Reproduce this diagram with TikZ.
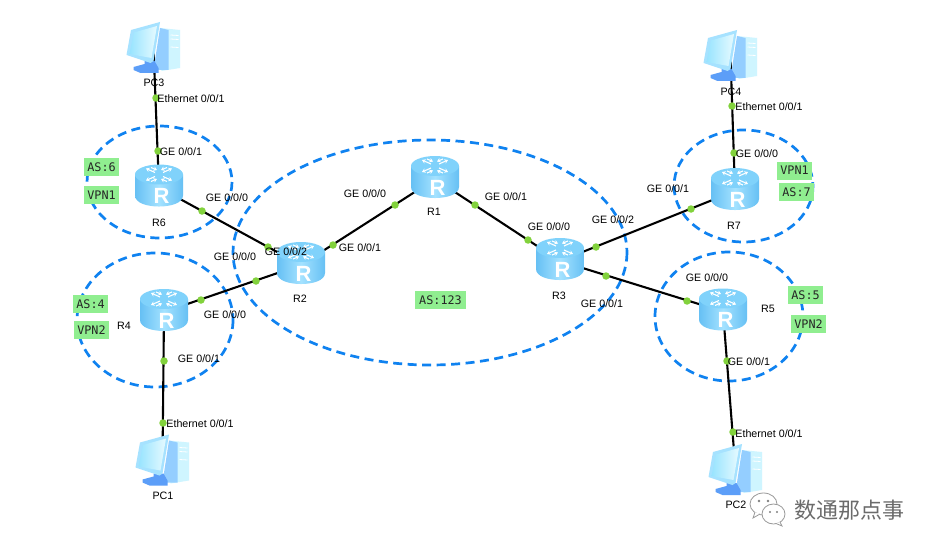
\documentclass[tikz,border=0pt]{standalone}
\usepackage{fontspec}
\usetikzlibrary{arrows.meta}
\setmainfont{Liberation Sans}
\newfontfamily\boxfont{DejaVu Sans Mono}
\newfontfamily\cjkfont{Noto Sans CJK SC}
\definecolor{asblue}{HTML}{0F82F0}
\definecolor{dotgreen}{HTML}{82D23C}
\definecolor{taggreen}{HTML}{90EE90}
\definecolor{rtedge}{HTML}{66C0F4}
\definecolor{rtmid}{HTML}{A4E2FF}
\definecolor{rttop}{HTML}{80D2FB}
\definecolor{pcframe}{HTML}{A6E2FF}
\definecolor{pcscreenA}{HTML}{98E4FF}
\definecolor{pcscreenB}{HTML}{E6FAFF}
\definecolor{pctowerR}{HTML}{CFF5FF}
\definecolor{pctowerL}{HTML}{94CEFF}
\definecolor{pcbase}{HTML}{5C9EF8}
\tikzset{
  zone/.style={draw=asblue,line width=2.7pt,dash pattern=on 9pt off 5.5pt},
  link/.style={draw=black,line width=2.1pt},
  port/.style={circle,fill=dotgreen,inner sep=0pt,minimum size=7.5pt},
  lbl/.style={inner sep=0pt,font=\fontsize{10.7}{12}\selectfont,text=black},
  tag/.style={fill=taggreen,inner sep=0pt,minimum width=35pt,minimum height=18pt,font=\boxfont\fontsize{11.8}{13}\selectfont,text=black!85},
  anchorpt/.style={inner sep=0pt,minimum size=0pt},
  rosette/.style={white,line width=1.1pt,-{Stealth[length=3.5pt,width=4.5pt]}},
  router/.pic={
    \path[shading=axis,left color=rtedge,right color=rtedge,middle color=rtmid]
      (-24,-13) -- (-24,8) .. controls (-24,22.7) and (24,22.7) .. (24,8) -- (24,-13) -- cycle;
    \path[fill=rttop] (0,-13) ellipse[x radius=24,y radius=10];
    \draw[rosette] (-4,-15) -- (-13,-19);
    \draw[rosette] (4,-15) -- (13,-19);
    \draw[rosette] (-4,-11) -- (-13,-7);
    \draw[rosette] (4,-11) -- (13,-7);
    \draw[rosette] (-8,-20) -- (-2,-17.5);
    \draw[rosette] (8,-20) -- (2,-17.5);
    \draw[rosette] (-8,-6) -- (-2,-8.5);
    \draw[rosette] (8,-6) -- (2,-8.5);
    \node[white,font=\bfseries\fontsize{22}{22}\selectfont,inner sep=0pt] at (2.5,8.5) {R};
  },
  pcicon/.pic={
    \fill[pctowerR] (6.5,-20) -- (26.5,-18) -- (26.5,20) -- (8,23) -- cycle;
    \fill[pctowerL] (6.5,-20) -- (15,-18) -- (15,22) -- (0,22) -- cycle;
    \draw[white,line width=0.8pt] (17,-13) -- (25,-12.5) (17,-9) -- (25,-8.5) (17,-1) -- (25,-0.5);
    \fill[pcbase] (-20,19) -- (-20,22) -- (-13,25) -- (5,25) -- (5,20) -- (1,13) -- (-9,13) -- (-9,16) -- cycle;
    \fill[pcframe] (-27,7) -- (-22.5,-18) -- (6.5,-26) -- (0,13) -- (-3,15) -- cycle;
    \shade[shading angle=135,left color=pcscreenA,right color=pcscreenB] (-24,6) -- (-19.5,-15.5) -- (3.5,-22) -- (-2,10) -- cycle;
  }
}
\begin{document}
\begin{tikzpicture}[x=1pt,y=-1pt]
\useasboundingbox[fill=white] (0,0) rectangle (937,551);
% zones
\draw[zone] (159.5,182) ellipse[x radius=72.5,y radius=56];
\draw[zone] (155,320) ellipse[x radius=78,y radius=67];
\draw[zone] (430,252.5) ellipse[x radius=197,y radius=112.5];
\draw[zone] (743.5,186) ellipse[x radius=69.5,y radius=56];
\draw[zone] (729,316.5) ellipse[x radius=74,y radius=64.5];
% device anchors
\node[anchorpt] (R1) at (435,179) {};
\node[anchorpt] (R2) at (301,265) {};
\node[anchorpt] (R3) at (560,261) {};
\node[anchorpt] (R4) at (164,312) {};
\node[anchorpt] (R5) at (723,311.5) {};
\node[anchorpt] (R6) at (159,187.5) {};
\node[anchorpt] (R7) at (735,191) {};
\node[anchorpt] (PC1) at (162.5,460.5) {};
\node[anchorpt] (PC2) at (735.5,470) {};
\node[anchorpt] (PC3) at (153.5,48) {};
\node[anchorpt] (PC4) at (730.5,56) {};
% links
\draw[link] (PC3) -- (R6);
\draw[link] (R6) -- (R2);
\draw[link] (R4) -- (R2);
\draw[link] (R2) -- (R1);
\draw[link] (R1) -- (R3);
\draw[link] (R3) -- (R7);
\draw[link] (R3) -- (R5);
\draw[link] (PC4) -- (R7);
\draw[link] (R4) -- (PC1);
\draw[link] (R5) -- (PC2);
% icons
\foreach \d in {R1,R2,R3,R4,R5,R6,R7}{\pic at (\d) {router};}
\foreach \d in {PC1,PC2,PC3,PC4}{\pic at (\d) {pcicon};}
% ports
\foreach \i/\p in {1/{156,98},2/{158,151},3/{202,211},4/{268,247},5/{333,245},6/{201,300},7/{256,281},8/{164,361},9/{163,423},10/{732,106},11/{734,153},12/{691,209},13/{687,301},14/{727,361},15/{733,432},16/{395,205},17/{475,205},18/{528,240},19/{596,247},20/{606,276}}{
  \node[port] (port\i) at (\p) {};
}
% device names
\node[lbl] (nR6) at (159,223) {R6};
\node[lbl] (nPC3) at (154,83) {PC3};
\node[lbl] (nR4) at (124,326) {R4};
\node[lbl] (nR2) at (300,299) {R2};
\node[lbl] (nPC1) at (163,496) {PC1};
\node[lbl] (nPC4) at (731,92) {PC4};
\node[lbl] (nR7) at (734,226) {R7};
\node[lbl] (nR5) at (768,309) {R5};
\node[lbl] (nPC2) at (736,505) {PC2};
\node[lbl] (nR1) at (434,212) {R1};
\node[lbl] (nR3) at (559,296) {R3};
% port labels
\node[lbl] (l1) at (191,99) {Ethernet 0/0/1};
\node[lbl] (l2) at (181,152) {GE 0/0/1};
\node[lbl] (l3) at (227,198) {GE 0/0/0};
\node[lbl] (l4) at (286,252) {GE 0/0/2};
\node[lbl] (l5) at (235,257) {GE 0/0/0};
\node[lbl] (l6) at (225,315) {GE 0/0/0};
\node[lbl] (l7) at (199,359) {GE 0/0/1};
\node[lbl] (l8) at (200,424) {Ethernet 0/0/1};
\node[lbl] (l9) at (769,107) {Ethernet 0/0/1};
\node[lbl] (l10) at (757,154) {GE 0/0/0};
\node[lbl] (l11) at (668,189) {GE 0/0/1};
\node[lbl] (l12) at (707,278) {GE 0/0/0};
\node[lbl] (l13) at (749,362) {GE 0/0/1};
\node[lbl] (l14) at (769,434) {Ethernet 0/0/1};
\node[lbl] (l15) at (365,194) {GE 0/0/0};
\node[lbl] (l16) at (360,248) {GE 0/0/1};
\node[lbl] (l17) at (506,197) {GE 0/0/1};
\node[lbl] (l18) at (549,227) {GE 0/0/0};
\node[lbl] (l19) at (613,220) {GE 0/0/2};
\node[lbl] (l20) at (602,304) {GE 0/0/1};
% tags
\node[tag] (t1) at (101.5,167) {AS:6};
\node[tag] (t2) at (101.5,195) {VPN1};
\node[tag] (t3) at (90.5,304) {AS:4};
\node[tag] (t4) at (91.5,330) {VPN2};
\node[tag] (t5) at (794.5,170.5) {VPN1};
\node[tag] (t6) at (796.5,192) {AS:7};
\node[tag] (t7) at (805.5,295) {AS:5};
\node[tag] (t8) at (808.5,324) {VPN2};
\node[tag,minimum width=51pt] (t9) at (440.5,300) {AS:123};
% watermark
\begin{scope}[draw=black!40,fill=white,line width=0.8pt]
  \filldraw (763.5,504) ellipse[x radius=13.5,y radius=11];
  \filldraw (755,512) -- (753,518) -- (760,514);
  \filldraw (773.5,514) ellipse[x radius=11.5,y radius=10];
  \filldraw (780,522) -- (782,526) -- (776,523.5);
  \fill[black!50] (759,501) circle[radius=1.4] (768,501) circle[radius=1.4] (770,512) circle[radius=1.2] (777,512) circle[radius=1.2];
\end{scope}
\node[inner sep=0pt,text=black!58,font=\cjkfont\fontsize{22}{24}\selectfont] (wm) at (849,510) {数通那点事};
\end{tikzpicture}
\end{document}
